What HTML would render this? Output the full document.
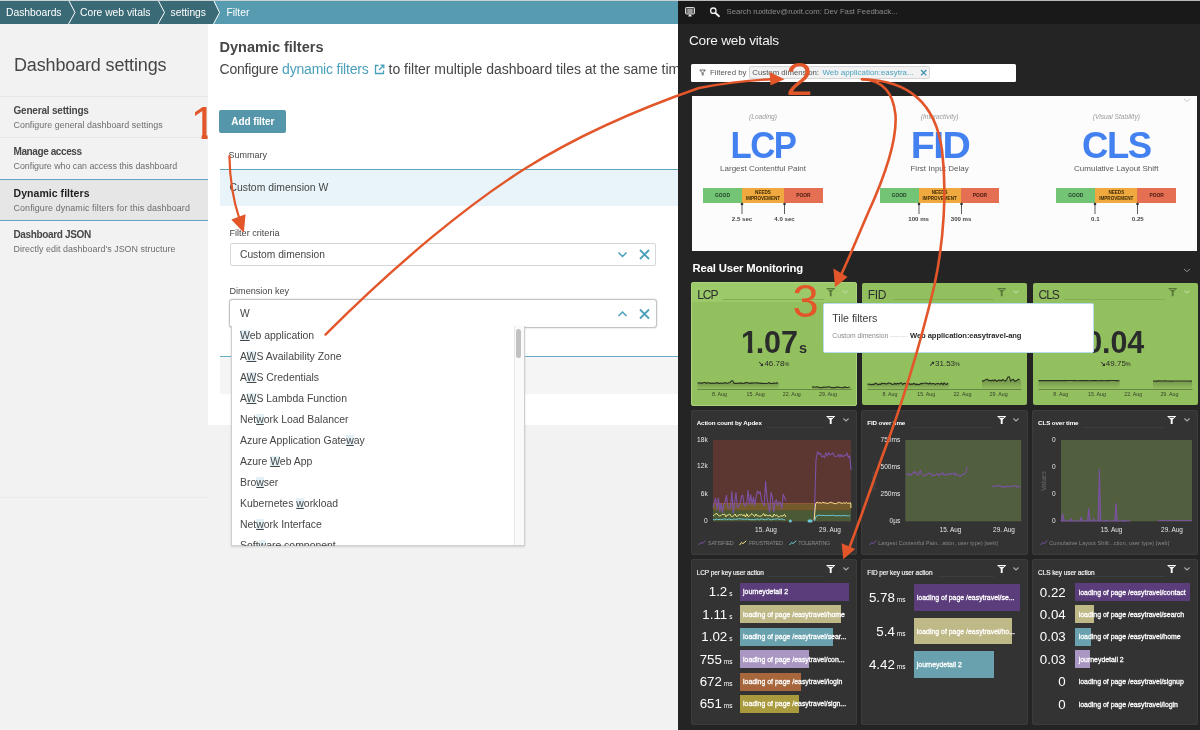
<!DOCTYPE html>
<html lang="en"><head><meta charset="utf-8"><title>Dynamic filters</title>
<style>
*{box-sizing:border-box}
html,body{margin:0;padding:0}
body{width:1200px;height:730px;overflow:hidden;position:relative;background:#f2f2f2;font-family:"Liberation Sans",sans-serif;color:#454646}
.a{position:absolute;white-space:nowrap}
#left{position:absolute;left:0;top:0;width:678px;height:730px;overflow:hidden;background:#f2f2f2}
#right{position:absolute;left:678px;top:0;width:522px;height:730px;overflow:hidden;background:#242424;color:#fff}
.bc{position:absolute;top:0.7px;height:24px;line-height:24px;color:#fff;font-size:10.3px}
.sbi{position:absolute;left:0;width:208px;height:41px;border-top:1px solid #e6e6e6}
.sbi b{position:absolute;left:13.5px;top:8px;font-size:10px;line-height:12px;color:#454646;letter-spacing:-0.2px;white-space:nowrap}
.sbi span{position:absolute;left:13.5px;top:23px;font-size:8.9px;line-height:11px;color:#6d6d6d;white-space:nowrap}
.sel{position:absolute;background:#fff;border:1px solid #ccc;border-radius:2px}
.opt{position:absolute;left:240px;font-size:10.45px;line-height:12px;color:#454646;white-space:nowrap}
.opt u{text-decoration:underline;background:#e3f1f7}
.tile{position:absolute;background:#333;border:1px solid #3c3c3c;border-radius:2px}
.gt{position:absolute;background:#93c05e;border:1px solid #aad37c;border-radius:2px;color:#2c2d2d}
.tt{position:absolute;font-size:6.25px;font-weight:700;color:#fff;white-space:nowrap;line-height:9px;letter-spacing:-0.13px}
.yl{position:absolute;font-size:6.6px;color:#e6e6e6;text-align:right;line-height:8px;white-space:nowrap}
.xl{position:absolute;font-size:6.45px;color:#e6e6e6;text-align:center;line-height:8px;width:40px;margin-left:-20px;white-space:nowrap}
.lg{position:absolute;font-size:5.4px;color:#8a8a8a;line-height:7px;white-space:nowrap;letter-spacing:-0.22px}
.bv{position:absolute;text-align:right;color:#fff;white-space:nowrap;font-size:13.3px;line-height:15px}
.bv small{font-size:6.5px;margin-left:2px}
.bar{position:absolute}
.bl{position:absolute;font-size:6.93px;color:#fff;white-space:nowrap;line-height:9px;font-weight:400;-webkit-text-stroke:0.28px #fff}
.num{position:absolute;color:#e2562a;font-size:47px;line-height:47px;white-space:nowrap}
</style></head>
<body>
<div id="left">
<div class="a" style="left:208px;top:24px;width:470px;height:401px;background:#fff"></div>
<div class="a" style="left:0;top:0;width:678px;height:24px;background:#569bb0"></div>
<svg class="a" style="left:0;top:0" width="678" height="24" viewBox="0 0 678 24"><path d="M0 0H213.5L219.5 12.5L213.5 24H0Z" fill="#3a6a76"/><path d="M68.5 0L75 12.5L68.5 24M158 0L164.5 12.5L158 24M213.5 0L219.5 12.5L213.5 24" fill="none" stroke="#fff" stroke-width="1"/><rect x="0" y="0" width="678" height="1" fill="#c9d3d6"/></svg>
<div class="bc" style="left:6px">Dashboards</div>
<div class="bc" style="left:80px">Core web vitals</div>
<div class="bc" style="left:170.5px">settings</div>
<div class="bc" style="left:226.5px">Filter</div>
<div class="a" style="left:14px;top:52.6px;font-size:18px;line-height:24px;color:#454646;letter-spacing:-0.15px">Dashboard settings</div>
<div class="sbi" style="top:96px;"><b style="letter-spacing:-0.2px">General settings</b><span style="letter-spacing:0.03px">Configure general dashboard settings</span></div>
<div class="sbi" style="top:137px;"><b style="letter-spacing:-0.4px">Manage access</b><span style="letter-spacing:-0.03px">Configure who can access this dashboard</span></div>
<div class="sbi" style="top:179px;z-index:2;background:#e6e6e6;border-top:1px solid #5fa5bd;border-bottom:1px solid #5fa5bd;height:42px;"><b style="font-size:10.5px;color:#1e1e1e;top:6.6px;letter-spacing:0.05px">Dynamic filters</b><span style="letter-spacing:0.12px">Configure dynamic filters for this dashboard</span></div>
<div class="sbi" style="top:220px;"><b style="letter-spacing:-0.35px">Dashboard JSON</b><span style="letter-spacing:0.05px">Directly edit dashboard's JSON structure</span></div>
<div class="a" style="left:0;top:496.5px;width:208px;height:1px;background:#e9e9e9"></div>
<div class="a" style="left:219.5px;top:38px;font-size:14.5px;font-weight:700;line-height:18px;color:#454646">Dynamic filters</div>
<div class="a" style="left:219.5px;top:59.8px;font-size:14px;line-height:18px;color:#454646;letter-spacing:-0.2px">Configure <span style="color:#4a9fba">dynamic filters</span><svg width="11" height="11" viewBox="0 0 11 11" style="margin:0 4px 0 5px;vertical-align:-1px"><path d="M4.5 1.5H1.5V9.5H9.5V6.5M6.5 1.2H9.8V4.5M9.5 1.5L5 6" fill="none" stroke="#4a9fba" stroke-width="1.3"/></svg><span style="letter-spacing:-0.02px">to filter multiple dashboard tiles at the same time</span></div>
<div class="a" style="left:219.3px;top:110.2px;width:67px;height:23.2px;background:#5596ab;border-radius:2px;color:#fff;font-size:10px;font-weight:700;line-height:23.5px;text-align:center;letter-spacing:-0.1px">Add filter</div>
<div class="a" style="left:228.5px;top:150.4px;font-size:9px;line-height:11px;color:#454646">Summary</div>
<div class="a" style="left:219.5px;top:169px;width:460px;height:1px;background:#5fa5bd"></div>
<div class="a" style="left:219.5px;top:170px;width:460px;height:36px;background:#e8f4f9"></div>
<div class="a" style="left:229.5px;top:181.5px;font-size:10.4px;line-height:12px;color:#454646">Custom dimension W</div>
<div class="a" style="left:229.5px;top:227.8px;font-size:9.1px;line-height:11px;color:#454646">Filter criteria</div>
<div class="sel" style="left:229.5px;top:243px;width:426.5px;height:23px;border-color:#d6d6d6"></div>
<div class="a" style="left:240px;top:248.7px;font-size:10.25px;line-height:12px;color:#454646">Custom dimension</div>
<div class="a" style="left:229.5px;top:286.3px;font-size:9.1px;line-height:11px;color:#454646">Dimension key</div>
<div class="sel" style="left:229.3px;top:299.4px;width:428.2px;height:28.4px;border:1.6px solid #c4c4c4;border-radius:3.5px;box-shadow:0 0 1.5px rgba(0,0,0,.3)"></div>
<div class="a" style="left:240px;top:307.7px;font-size:10.25px;line-height:12px;color:#454646">W</div>
<svg class="a" style="left:612px;top:244px" width="50" height="90" viewBox="0 0 50 90"><path d="M6.5 8.5L10.5 12.5L14.5 8.5" fill="none" stroke="#4a9fba" stroke-width="1.5"/><path d="M28 6L37 15M37 6L28 15" fill="none" stroke="#4a9fba" stroke-width="1.8"/><path d="M6.5 72L10.5 68L14.5 72" fill="none" stroke="#4a9fba" stroke-width="1.5"/><path d="M28 65.5L37 74.5M37 65.5L28 74.5" fill="none" stroke="#4a9fba" stroke-width="1.8"/></svg>
<div class="a" style="left:219.5px;top:355.8px;width:460px;height:1.2px;background:#66adc5"></div>
<div class="a" style="left:219.5px;top:357px;width:460px;height:37px;background:#f5f5f5"></div>
<div class="a" style="left:230.5px;top:326px;width:294px;height:220px;background:#fff;border:1px solid #cfcfcf;border-top:none;overflow:hidden;box-shadow:0 1px 2px rgba(0,0,0,.15)"><div class="a" style="right:0;top:0;width:10px;height:220px;background:#fafafa;border-left:1px solid #e8e8e8"></div><div class="a" style="right:2.6px;top:2.5px;width:5.4px;height:29px;background:#c1c1c1;border-radius:3px"></div></div>
<div class="a" style="left:0;top:0;width:520px;height:546px;overflow:hidden">
<div class="opt" style="top:330.2px"><u>W</u>eb application</div>
<div class="opt" style="top:351.1px">A<u>W</u>S Availability Zone</div>
<div class="opt" style="top:372.1px">A<u>W</u>S Credentials</div>
<div class="opt" style="top:393.0px">A<u>W</u>S Lambda Function</div>
<div class="opt" style="top:414.0px">Net<u>w</u>ork Load Balancer</div>
<div class="opt" style="top:434.9px">Azure Application Gate<u>w</u>ay</div>
<div class="opt" style="top:455.9px">Azure <u>W</u>eb App</div>
<div class="opt" style="top:476.9px">Bro<u>w</u>ser</div>
<div class="opt" style="top:497.8px">Kubernetes <u>w</u>orkload</div>
<div class="opt" style="top:518.8px">Net<u>w</u>ork Interface</div>
<div class="opt" style="top:539.7px">Soft<u>w</u>are component</div>
</div>
</div>
<div id="right">
<div class="a" style="left:0;top:0;width:522px;height:24px;background:#191919"></div>
<div class="a" style="left:0;top:0;width:522px;height:1px;background:#b9b9b9"></div>
<svg class="a" style="left:6px;top:6px" width="40" height="14" viewBox="0 0 40 14"><rect x="1.5" y="1.5" width="9" height="6.5" rx="0.8" fill="#5a5a5a" stroke="#d8d8d8" stroke-width="1"/><path d="M3.5 4H8.5M3.5 6H8.5" stroke="#d8d8d8" stroke-width="1"/><path d="M4.2 10.5L5 8.5H7L7.8 10.5Z" fill="#e6e6e6"/><circle cx="29.3" cy="4.7" r="2.7" fill="none" stroke="#f0f0f0" stroke-width="1.3"/><path d="M31.5 7L35 10.2" stroke="#f0f0f0" stroke-width="1.9" stroke-linecap="round"/></svg>
<div class="a" style="left:48.5px;top:7px;font-size:7.76px;line-height:10px;color:#8c8c8c">Search ruxitdev@ruxit.com: Dev Fast Feedback...</div>
<div class="a" style="left:11px;top:32px;font-size:13.6px;line-height:18px;color:#f2f2f2;letter-spacing:-0.2px">Core web vitals</div>
<div class="a" style="left:13px;top:63.5px;width:325px;height:18px;background:#fff;border-radius:1.5px"></div>
<svg class="a" style="left:21px;top:69px" width="8" height="8" viewBox="0 0 8 8"><path d="M0.8 1H6.4L4.1 3.6V6.3L3.1 5.6V3.6Z" fill="none" stroke="#555" stroke-width="0.9" stroke-linejoin="round"/></svg>
<div class="a" style="left:32px;top:67.5px;font-size:7.8px;line-height:10px;color:#555">Filtered by</div>
<div class="a" style="left:71.29999999999995px;top:65.5px;width:181px;height:13.7px;background:#f2f2f2;border:1px solid #d6d6d6;border-radius:2px"></div>
<div class="a" style="left:74.29999999999995px;top:67.5px;font-size:7.8px;line-height:10px;color:#555">Custom dimension: <span style="color:#4aa2be;margin-left:1.2px;font-size:7.95px">Web application:easytra...</span></div>
<svg class="a" style="left:242px;top:69px" width="8" height="8" viewBox="0 0 8 8"><path d="M1 1L6.4 6.4M6.4 1L1 6.4" stroke="#3f93ad" stroke-width="1.3"/></svg>
<div class="a" style="left:14px;top:96px;width:505px;height:155px;background:#fcfcfc"></div>
<svg class="a" style="left:505px;top:98px" width="8" height="5" viewBox="0 0 8 5"><path d="M1 1L4 3.6L7 1" fill="none" stroke="#c4c4c4" stroke-width="0.9"/></svg>
<div class="a" style="left:25.0px;width:120px;top:112.6px;text-align:center;font-size:6.6px;line-height:8px;font-style:italic;color:#9a9a9a">(Loading)</div>
<div class="a" style="left:25.0px;width:120px;top:126px;text-align:center;font-size:36.5px;line-height:40px;font-weight:700;color:#4381f0;letter-spacing:-1.5px;transform:scaleX(0.952)">LCP</div>
<div class="a" style="left:25.0px;width:120px;top:164px;text-align:center;font-size:8px;line-height:10px;color:#5a5a5a">Largest Contentful Paint</div>
<div class="a" style="left:25.0px;top:188px;width:39px;height:15.3px;background:#74c476;font-size:4.9px;font-weight:700;color:#1f3d24;text-align:center;line-height:15.3px">GOOD</div>
<div class="a" style="left:64.0px;top:188px;width:42px;height:15.3px;background:#efa93e;font-size:4.6px;font-weight:700;color:#3f2c08;text-align:center;line-height:5.3px;padding-top:2.4px">NEEDS<br>IMPROVEMENT</div>
<div class="a" style="left:106.0px;top:188px;width:38.7px;height:15.3px;background:#e46f53;font-size:4.9px;font-weight:700;color:#47180e;text-align:center;line-height:15.3px">POOR</div>
<svg class="a" style="left:25.0px;top:202px" width="120" height="13" viewBox="0 0 120 13"><path d="M39 2V12M81.5 2V12" stroke="#333" stroke-width="0.8"/><circle cx="39" cy="2" r="1.3" fill="#333"/><circle cx="81.5" cy="2" r="1.3" fill="#333"/></svg>
<div class="a" style="left:44.0px;width:40px;top:215px;text-align:center;font-size:6.1px;line-height:8px;color:#444;font-weight:700">2.5 sec</div>
<div class="a" style="left:86.5px;width:40px;top:215px;text-align:center;font-size:6.1px;line-height:8px;color:#444;font-weight:700">4.0 sec</div>
<div class="a" style="left:201.6px;width:120px;top:112.6px;text-align:center;font-size:6.6px;line-height:8px;font-style:italic;color:#9a9a9a">(Interactivity)</div>
<div class="a" style="left:201.6px;width:120px;top:126px;text-align:center;font-size:36.5px;line-height:40px;font-weight:700;color:#4381f0;letter-spacing:-1.5px;transform:scaleX(1.075)">FID</div>
<div class="a" style="left:201.6px;width:120px;top:164px;text-align:center;font-size:8px;line-height:10px;color:#5a5a5a">First Input Delay</div>
<div class="a" style="left:201.7px;top:188px;width:39px;height:15.3px;background:#74c476;font-size:4.9px;font-weight:700;color:#1f3d24;text-align:center;line-height:15.3px">GOOD</div>
<div class="a" style="left:240.7px;top:188px;width:42px;height:15.3px;background:#efa93e;font-size:4.6px;font-weight:700;color:#3f2c08;text-align:center;line-height:5.3px;padding-top:2.4px">NEEDS<br>IMPROVEMENT</div>
<div class="a" style="left:282.6px;top:188px;width:38.7px;height:15.3px;background:#e46f53;font-size:4.9px;font-weight:700;color:#47180e;text-align:center;line-height:15.3px">POOR</div>
<svg class="a" style="left:201.7px;top:202px" width="120" height="13" viewBox="0 0 120 13"><path d="M39 2V12M81.5 2V12" stroke="#333" stroke-width="0.8"/><circle cx="39" cy="2" r="1.3" fill="#333"/><circle cx="81.5" cy="2" r="1.3" fill="#333"/></svg>
<div class="a" style="left:220.7px;width:40px;top:215px;text-align:center;font-size:6.1px;line-height:8px;color:#444;font-weight:700">100 ms</div>
<div class="a" style="left:263.1px;width:40px;top:215px;text-align:center;font-size:6.1px;line-height:8px;color:#444;font-weight:700">300 ms</div>
<div class="a" style="left:378.3px;width:120px;top:112.6px;text-align:center;font-size:6.6px;line-height:8px;font-style:italic;color:#9a9a9a">(Visual Stability)</div>
<div class="a" style="left:378.3px;width:120px;top:126px;text-align:center;font-size:36.5px;line-height:40px;font-weight:700;color:#4381f0;letter-spacing:-1.5px;transform:scaleX(1.0)">CLS</div>
<div class="a" style="left:378.3px;width:120px;top:164px;text-align:center;font-size:8px;line-height:10px;color:#5a5a5a">Cumulative Layout Shift</div>
<div class="a" style="left:378.3px;top:188px;width:39px;height:15.3px;background:#74c476;font-size:4.9px;font-weight:700;color:#1f3d24;text-align:center;line-height:15.3px">GOOD</div>
<div class="a" style="left:417.3px;top:188px;width:42px;height:15.3px;background:#efa93e;font-size:4.6px;font-weight:700;color:#3f2c08;text-align:center;line-height:5.3px;padding-top:2.4px">NEEDS<br>IMPROVEMENT</div>
<div class="a" style="left:459.3px;top:188px;width:38.7px;height:15.3px;background:#e46f53;font-size:4.9px;font-weight:700;color:#47180e;text-align:center;line-height:15.3px">POOR</div>
<svg class="a" style="left:378.3px;top:202px" width="120" height="13" viewBox="0 0 120 13"><path d="M39 2V12M81.5 2V12" stroke="#333" stroke-width="0.8"/><circle cx="39" cy="2" r="1.3" fill="#333"/><circle cx="81.5" cy="2" r="1.3" fill="#333"/></svg>
<div class="a" style="left:397.3px;width:40px;top:215px;text-align:center;font-size:6.1px;line-height:8px;color:#444;font-weight:700">0.1</div>
<div class="a" style="left:439.8px;width:40px;top:215px;text-align:center;font-size:6.1px;line-height:8px;color:#444;font-weight:700">0.25</div>
<div class="a" style="left:14.5px;top:262.3px;font-size:11.3px;font-weight:700;line-height:13px;color:#fff;letter-spacing:-0.15px">Real User Monitoring</div>
<svg class="a" style="left:505px;top:268px" width="8" height="5" viewBox="0 0 8 5"><path d="M1 1L4 3.6L7 1" fill="none" stroke="#9a9a9a" stroke-width="0.9"/></svg>
<div class="gt" style="left:12.7px;top:282px;width:166.4px;height:123.7px"><div class="a" style="left:0;top:0;width:100%;height:18.5px;background:#9cc96a"></div></div>
<div class="a" style="left:19.200000000000045px;top:287.5px;font-size:12px;line-height:14px;color:#2c2d2d;letter-spacing:-1.05px">LCP</div>
<div class="a" style="left:44.700000000000045px;top:299px;width:101px;height:1px;background:#82ad52"></div>
<svg class="a" style="left:148.3px;top:288.2px" width="9.4" height="8.4" viewBox="0 0 9.4 8.4"><path d="M0 0H9.4L5.65 3.7V8.3H3.75V3.7Z" fill="#5a783a"/><path d="M2 0.95H7.4L6.5 1.85H2.9Z" fill="#93c05e"/></svg>
<svg class="a" style="left:164.3px;top:290.2px" width="6" height="4" viewBox="0 0 6 4"><path d="M0.4 0.5L3 2.9L5.6 0.5" fill="none" stroke="#b9d796" stroke-width="1.1"/></svg>
<div class="a" style="left:12.700000000000045px;width:166.4px;top:325px;text-align:center;font-size:30.5px;line-height:34px;font-weight:700;color:#2a2b2b;letter-spacing:-0.1px"><span style="display:inline-block;clip-path:polygon(0 0,0.376em 0,0.376em 100%,0.222em 100%,0.222em 0.77em,0 0.77em);margin-right:-0.07em">1</span>.07<span style="font-size:14.5px;letter-spacing:-0.3px;margin-left:1.2px">s</span></div>
<div class="a" style="left:12.700000000000045px;width:166.4px;top:358.5px;text-align:center;font-size:8px;line-height:10px;color:#2a2b2b"><span style="font-size:6.5px;font-weight:700">↘</span>46.78<span style="font-size:5.5px">%</span></div>
<svg class="a" style="left:12.700000000000045px;top:282px" width="167" height="123" viewBox="0 0 167 123"><defs><linearGradient id="gg0" x1="0" y1="0" x2="0" y2="1"><stop offset="0" stop-color="#3c4a2c" stop-opacity=".35"/><stop offset="1" stop-color="#3c4a2c" stop-opacity="0"/></linearGradient></defs><rect x="6.5" y="101" width="81.0" height="6.5" fill="url(#gg0)"/><rect x="121" y="105.3" width="39" height="2.200000000000003" fill="url(#gg0)"/><path d="M6.5 107.5H160.5" stroke="#55703a" stroke-width="0.7"/><polyline points="6.5,100.7 7.8,101.0 9.1,100.9 10.4,101.1 11.7,101.1 13.0,100.5 14.3,100.5 15.6,101.4 16.9,100.7 18.2,100.7 19.5,101.5 20.8,101.0 22.1,101.4 23.4,101.0 24.7,101.2 26.0,100.6 27.3,101.1 28.6,101.4 29.9,101.0 31.2,101.3 32.5,101.2 33.8,100.5 35.1,101.3 36.4,101.1 37.7,100.8 39.0,100.5 40.3,99.1 41.6,98.7 42.9,101.2 44.2,101.4 45.5,101.2 46.8,101.5 48.1,100.9 49.4,101.3 50.7,100.9 52.0,101.5 53.3,101.4 54.6,100.6 55.9,100.6 57.2,100.7 58.5,101.5 59.8,100.9 61.1,101.1 62.4,100.8 63.7,101.0 65.0,100.9 66.3,100.8 67.6,101.1 68.9,101.1 70.2,101.4 71.5,101.2 72.8,101.5 74.1,101.4 75.4,101.5 76.7,101.2 78.0,100.6 79.3,101.4 80.6,101.5 81.9,101.4 83.2,101.1 84.5,101.2 85.8,100.7 87.1,101.4" fill="none" stroke="#2a3120" stroke-width="1.15" stroke-linejoin="round"/><polyline points="121.0,105.0 122.3,104.9 123.6,105.2 124.9,105.0 126.2,104.9 127.5,105.2 128.8,105.7 130.1,105.6 131.4,105.6 132.7,105.0 134.0,105.3 135.3,105.1 136.6,105.0 137.9,104.9 139.2,105.0 140.5,105.7 141.8,105.6 143.1,105.6 144.4,105.6 145.7,105.0 147.0,105.1 148.3,105.4 149.6,105.5 150.9,105.7 152.2,105.7 153.5,104.9 154.8,105.4 156.1,105.5 157.4,105.3 158.7,105.0" fill="none" stroke="#2a3120" stroke-width="1.15" stroke-linejoin="round"/></svg>
<div class="a" style="left:26.4px;width:30px;top:390.5px;text-align:center;font-size:5.3px;line-height:7px;color:#33402a">8. Aug</div>
<div class="a" style="left:62.6px;width:30px;top:390.5px;text-align:center;font-size:5.3px;line-height:7px;color:#33402a">15. Aug</div>
<div class="a" style="left:98.8px;width:30px;top:390.5px;text-align:center;font-size:5.3px;line-height:7px;color:#33402a">22. Aug</div>
<div class="a" style="left:135.0px;width:30px;top:390.5px;text-align:center;font-size:5.3px;line-height:7px;color:#33402a">29. Aug</div>
<div class="gt" style="left:183.9px;top:282.6px;width:165.2px;height:122.8px;border:none"><div class="a" style="left:0;top:0;width:100%;height:18.5px;background:transparent"></div></div>
<div class="a" style="left:189.79999999999995px;top:287.5px;font-size:12px;line-height:14px;color:#2c2d2d;letter-spacing:-0.4px">FID</div>
<div class="a" style="left:215.29999999999995px;top:299px;width:101px;height:1px;background:#82ad52"></div>
<svg class="a" style="left:318.9px;top:288.2px" width="9.4" height="8.4" viewBox="0 0 9.4 8.4"><path d="M0 0H9.4L5.65 3.7V8.3H3.75V3.7Z" fill="#5a783a"/><path d="M2 0.95H7.4L6.5 1.85H2.9Z" fill="#93c05e"/></svg>
<svg class="a" style="left:334.9px;top:290.2px" width="6" height="4" viewBox="0 0 6 4"><path d="M0.4 0.5L3 2.9L5.6 0.5" fill="none" stroke="#b9d796" stroke-width="1.1"/></svg>
<div class="a" style="left:183.29999999999995px;width:166.4px;top:325px;text-align:center;font-size:30.5px;line-height:34px;font-weight:700;color:#2a2b2b;letter-spacing:-0.1px"><span style="display:inline-block;clip-path:polygon(0 0,0.376em 0,0.376em 100%,0.222em 100%,0.222em 0.77em,0 0.77em);margin-right:-0.07em">1</span>03<span style="font-size:14.5px;letter-spacing:-0.3px;margin-left:1.2px">ms</span></div>
<div class="a" style="left:183.29999999999995px;width:166.4px;top:358.5px;text-align:center;font-size:8px;line-height:10px;color:#2a2b2b"><span style="font-size:6.5px;font-weight:700">↗</span>31.53<span style="font-size:5.5px">%</span></div>
<svg class="a" style="left:183.29999999999995px;top:282px" width="167" height="123" viewBox="0 0 167 123"><defs><linearGradient id="gg1" x1="0" y1="0" x2="0" y2="1"><stop offset="0" stop-color="#3c4a2c" stop-opacity=".35"/><stop offset="1" stop-color="#3c4a2c" stop-opacity="0"/></linearGradient></defs><rect x="6.5" y="101.8" width="81.5" height="5.700000000000003" fill="url(#gg1)"/><rect x="121" y="98.3" width="39" height="9.200000000000003" fill="url(#gg1)"/><path d="M6.5 107.5H160.5" stroke="#55703a" stroke-width="0.7"/><polyline points="6.5,102.0 7.8,102.2 9.1,102.3 10.4,102.6 11.7,102.2 13.0,102.6 14.3,101.0 15.6,101.7 16.9,102.6 18.2,102.1 19.5,102.5 20.8,101.1 22.1,101.7 23.4,101.3 24.7,101.9 26.0,101.9 27.3,100.9 28.6,101.3 29.9,101.4 31.2,102.5 32.5,102.3 33.8,101.2 35.1,102.3 36.4,101.1 37.7,102.0 39.0,101.1 40.3,100.9 41.6,102.5 42.9,101.3 44.2,101.3 45.5,102.7 46.8,102.5 48.1,101.4 49.4,102.6 50.7,101.9 52.0,102.1 53.3,101.3 54.6,102.6 55.9,102.1 57.2,102.6 58.5,102.5 59.8,101.4 61.1,101.6 62.4,101.2 63.7,101.2 65.0,101.0 66.3,101.4 67.6,102.0 68.9,100.9 70.2,102.1 71.5,101.5 72.8,101.5 74.1,102.4 75.4,101.8 76.7,101.5 78.0,101.8 79.3,102.2 80.6,101.0 81.9,102.7 83.2,100.9 84.5,102.2 85.8,102.4 87.1,100.9" fill="none" stroke="#2a3120" stroke-width="1.15" stroke-linejoin="round"/><polyline points="121.0,99.1 122.3,99.1 123.6,98.3 124.9,97.7 126.2,97.0 127.5,98.7 128.8,98.2 130.1,99.0 131.4,98.0 132.7,99.0 134.0,97.7 135.3,99.1 136.6,98.9 137.9,98.1 139.2,98.4 140.5,98.8 141.8,97.5 143.1,98.4 144.4,99.1 145.7,97.7 147.0,95.1 148.3,94.8 149.6,99.2 150.9,97.9 152.2,97.2 153.5,99.1 154.8,99.1 156.1,98.2 157.4,97.2 158.7,97.5" fill="none" stroke="#2a3120" stroke-width="1.15" stroke-linejoin="round"/></svg>
<div class="a" style="left:197.0px;width:30px;top:390.5px;text-align:center;font-size:5.3px;line-height:7px;color:#33402a">8. Aug</div>
<div class="a" style="left:233.2px;width:30px;top:390.5px;text-align:center;font-size:5.3px;line-height:7px;color:#33402a">15. Aug</div>
<div class="a" style="left:269.4px;width:30px;top:390.5px;text-align:center;font-size:5.3px;line-height:7px;color:#33402a">22. Aug</div>
<div class="a" style="left:305.6px;width:30px;top:390.5px;text-align:center;font-size:5.3px;line-height:7px;color:#33402a">29. Aug</div>
<div class="gt" style="left:354.7px;top:282.6px;width:165.2px;height:122.8px;border:none"><div class="a" style="left:0;top:0;width:100%;height:18.5px;background:transparent"></div></div>
<div class="a" style="left:360.5999999999999px;top:287.5px;font-size:12px;line-height:14px;color:#2c2d2d;letter-spacing:-1.05px">CLS</div>
<div class="a" style="left:386.0999999999999px;top:299px;width:101px;height:1px;background:#82ad52"></div>
<svg class="a" style="left:489.7px;top:288.2px" width="9.4" height="8.4" viewBox="0 0 9.4 8.4"><path d="M0 0H9.4L5.65 3.7V8.3H3.75V3.7Z" fill="#5a783a"/><path d="M2 0.95H7.4L6.5 1.85H2.9Z" fill="#93c05e"/></svg>
<svg class="a" style="left:505.7px;top:290.2px" width="6" height="4" viewBox="0 0 6 4"><path d="M0.4 0.5L3 2.9L5.6 0.5" fill="none" stroke="#b9d796" stroke-width="1.1"/></svg>
<div class="a" style="left:354.0999999999999px;width:166.4px;top:325px;text-align:center;font-size:30.5px;line-height:34px;font-weight:700;color:#2a2b2b;letter-spacing:-0.1px">0.04<span style="font-size:14.5px;letter-spacing:-0.3px;margin-left:1.2px"></span></div>
<div class="a" style="left:354.0999999999999px;width:166.4px;top:358.5px;text-align:center;font-size:8px;line-height:10px;color:#2a2b2b"><span style="font-size:6.5px;font-weight:700">↘</span>49.75<span style="font-size:5.5px">%</span></div>
<svg class="a" style="left:354.0999999999999px;top:282px" width="167" height="123" viewBox="0 0 167 123"><defs><linearGradient id="gg2" x1="0" y1="0" x2="0" y2="1"><stop offset="0" stop-color="#3c4a2c" stop-opacity=".35"/><stop offset="1" stop-color="#3c4a2c" stop-opacity="0"/></linearGradient></defs><rect x="6.5" y="98.6" width="81.1" height="8.900000000000006" fill="url(#gg2)"/><rect x="121" y="99" width="39" height="8.5" fill="url(#gg2)"/><path d="M6.5 107.5H160.5" stroke="#55703a" stroke-width="0.7"/><polyline points="6.5,98.6 9.5,98.5 12.5,98.6 15.5,98.5 18.5,98.6 21.5,98.6 24.5,98.5 27.5,98.6 30.5,98.5 33.5,98.6 36.5,98.5 39.5,98.5 42.5,98.6 45.5,98.7 48.5,98.5 51.5,98.6 54.5,98.6 57.5,98.7 60.5,98.6 63.5,98.6 66.5,98.7 69.5,98.5 72.5,98.7 75.5,98.6 78.5,98.5 81.5,98.5 84.5,98.6 87.5,98.7" fill="none" stroke="#2a3120" stroke-width="1.15" stroke-linejoin="round"/><polyline points="121.0,99.0 124.0,99.1 127.0,98.9 130.0,99.0 133.0,98.9 136.0,99.0 139.0,99.1 142.0,99.0 145.0,99.0 148.0,99.0 151.0,99.0 154.0,99.0 157.0,99.0 160.0,99.1" fill="none" stroke="#2a3120" stroke-width="1.15" stroke-linejoin="round"/></svg>
<div class="a" style="left:367.8px;width:30px;top:390.5px;text-align:center;font-size:5.3px;line-height:7px;color:#33402a">8. Aug</div>
<div class="a" style="left:404.0px;width:30px;top:390.5px;text-align:center;font-size:5.3px;line-height:7px;color:#33402a">15. Aug</div>
<div class="a" style="left:440.2px;width:30px;top:390.5px;text-align:center;font-size:5.3px;line-height:7px;color:#33402a">22. Aug</div>
<div class="a" style="left:476.4px;width:30px;top:390.5px;text-align:center;font-size:5.3px;line-height:7px;color:#33402a">29. Aug</div>
<div class="a" style="left:144.5px;top:303px;width:271.5px;height:49.5px;background:#fff;border:1px solid #b9dcea;border-radius:2px"></div>
<div class="a" style="left:154.29999999999995px;top:310.9px;font-size:10.6px;line-height:14px;color:#3a3a3a">Tile filters</div>
<div class="a" style="left:154.29999999999995px;top:331.2px;font-size:6.75px;line-height:9px;color:#8a8a8a">Custom dimension</div><div class="a" style="left:211.79999999999995px;top:331.4px;width:18.4px;overflow:hidden;font-size:6px;line-height:9px;color:#b0b0b0;letter-spacing:-0.5px">....................</div>
<div class="a" style="left:232px;top:331.2px;font-size:7.6px;line-height:9px;color:#2a2a2a;font-weight:700;letter-spacing:-0.08px">Web application:easytravel-ang</div>
<div class="tile" style="left:12.700000000000045px;top:410.3px;width:166.4px;height:144.3px"></div>
<div class="tt" style="left:18.700000000000045px;top:418.2px">Action count by Apdex</div>
<svg class="a" style="left:148.0px;top:416.0px" width="9.4" height="8.4" viewBox="0 0 9.4 8.4"><path d="M0 0H9.4L5.65 3.7V8.3H3.75V3.7Z" fill="#fff"/><path d="M2 0.95H7.4L6.5 1.85H2.9Z" fill="#333"/></svg>
<div class="a" style="left:89.20000000000005px;top:426.6px;width:56.5px;height:1px;background:#3a3e3e"></div>
<svg class="a" style="left:164.7px;top:418.0px" width="6" height="4" viewBox="0 0 6 4"><path d="M0.4 0.5L3 2.9L5.6 0.5" fill="none" stroke="#ababab" stroke-width="1.1"/></svg>
<div class="tile" style="left:183.29999999999995px;top:410.3px;width:166.4px;height:144.3px"></div>
<div class="tt" style="left:189.29999999999995px;top:418.2px">FID over time</div>
<svg class="a" style="left:318.6px;top:416.0px" width="9.4" height="8.4" viewBox="0 0 9.4 8.4"><path d="M0 0H9.4L5.65 3.7V8.3H3.75V3.7Z" fill="#fff"/><path d="M2 0.95H7.4L6.5 1.85H2.9Z" fill="#333"/></svg>
<div class="a" style="left:233.29999999999995px;top:426.6px;width:82px;height:1px;background:#3a3e3e"></div>
<svg class="a" style="left:335.3px;top:418.0px" width="6" height="4" viewBox="0 0 6 4"><path d="M0.4 0.5L3 2.9L5.6 0.5" fill="none" stroke="#ababab" stroke-width="1.1"/></svg>
<div class="tile" style="left:354.0999999999999px;top:410.3px;width:166.4px;height:144.3px"></div>
<div class="tt" style="left:360.0999999999999px;top:418.2px">CLS over time</div>
<svg class="a" style="left:489.4px;top:416.0px" width="9.4" height="8.4" viewBox="0 0 9.4 8.4"><path d="M0 0H9.4L5.65 3.7V8.3H3.75V3.7Z" fill="#fff"/><path d="M2 0.95H7.4L6.5 1.85H2.9Z" fill="#333"/></svg>
<div class="a" style="left:404.0999999999999px;top:426.6px;width:82px;height:1px;background:#3a3e3e"></div>
<svg class="a" style="left:506.1px;top:418.0px" width="6" height="4" viewBox="0 0 6 4"><path d="M0.4 0.5L3 2.9L5.6 0.5" fill="none" stroke="#ababab" stroke-width="1.1"/></svg>
<svg class="a" style="left:0;top:0" width="522" height="730" viewBox="0 0 522 730"><rect x="35" y="440" width="138" height="81.29999999999995" fill="#5c3631"/><rect x="35" y="503.3" width="138" height="7.2" fill="#735a2c"/><rect x="35" y="503" width="138" height="0.7" fill="#a5603a"/><rect x="35" y="510.5" width="138" height="10.799999999999955" fill="#4a5a36"/><polyline points="35.0,507.5 36.4,501.8 37.7,498.3 39.1,509.3 40.4,498.1 41.8,511.1 43.1,503.4 44.5,512.6 45.8,504.2 47.2,501.4 48.5,495.4 49.9,507.4 51.2,508.2 52.6,508.0 53.9,491.6 55.3,513.0 56.6,502.7 58.0,492.5 59.3,507.0 60.7,506.9 62.0,504.3 63.4,496.3 64.7,495.1 66.1,505.0 67.4,506.3 68.8,503.0 70.1,490.3 71.5,504.8 72.8,494.5 74.1,504.3 75.5,497.0 76.8,505.7 78.2,496.3 79.5,490.7 80.9,493.5 82.2,491.7 83.6,500.7 84.9,503.9 86.3,505.4 87.6,481.2 89.0,497.8 90.3,505.1 91.7,512.1 93.0,492.4 94.4,497.0 95.7,511.8 97.1,502.0 98.4,499.9 99.8,505.6 101.1,502.2 102.5,502.8 103.8,508.6 105.2,494.1 106.5,497.2 107.9,500.7" fill="none" stroke="#7c52a5" stroke-width="1.1" stroke-linejoin="round"/><polyline points="136.2,521.0 136.8,500.0 138.0,460.0 139.5,451.5 141.0,454.3 142.4,453.2 143.8,457.0 145.2,455.8 146.6,457.4 148.0,452.6 149.4,456.0 150.8,452.6 152.2,454.9 153.6,454.1 155.0,452.9 156.4,456.2 157.8,456.2 159.2,456.5 160.6,454.3 162.0,457.0 163.4,454.6 164.8,456.8 166.2,455.6 167.6,455.4 169.0,452.9 170.4,457.5 171.8,456.1 173.0,470.0" fill="none" stroke="#7c52a5" stroke-width="1.1" stroke-linejoin="round"/><polyline points="35.0,516.1 36.3,515.1 37.6,513.8 38.9,513.6 40.2,515.2 41.5,516.0 42.8,515.7 44.1,514.4 45.4,514.6 46.7,514.2 48.0,516.8 49.3,515.1 50.6,514.7 51.9,514.2 53.2,516.4 54.5,516.7 55.8,515.6 57.1,514.0 58.4,516.5 59.7,516.1 61.0,514.5 62.3,515.1 63.6,514.3 64.9,515.8 66.2,514.6 67.5,517.0 68.8,513.8 70.1,516.6 71.4,516.1 72.7,514.6 74.0,513.6 75.3,515.1 76.6,516.5 77.9,514.0 79.2,515.8 80.5,515.8 81.8,516.4 83.1,516.0 84.4,515.2 85.7,513.5 87.0,516.1 88.3,514.5 89.6,516.0 90.9,515.7 92.2,514.9 93.5,516.8 94.8,516.9 96.1,514.0 97.4,515.8 98.7,514.9 100.0,516.7 101.3,516.9 102.6,515.8 103.9,516.1 105.2,515.8 106.5,514.3 107.8,517.0" fill="none" stroke="#f3e489" stroke-width="1" stroke-linejoin="round"/><polyline points="136.2,520.0 137.5,504.0 139.0,502.0 140.5,502.9 141.9,502.5 143.3,503.4 144.7,502.0 146.1,502.9 147.5,502.8 148.9,503.4 150.3,503.3 151.7,502.5 153.1,502.2 154.5,502.8 155.9,503.4 157.3,503.6 158.7,503.6 160.1,502.3 161.5,502.4 162.9,503.0 164.3,503.4 165.7,502.5 167.1,503.4 168.5,502.3 169.9,503.6 171.3,502.9 172.7,502.9 173.0,508.0" fill="none" stroke="#f3e489" stroke-width="1" stroke-linejoin="round"/><polyline points="35.0,519.4 36.5,519.9 38.0,519.2 39.5,519.4 41.0,519.5 42.5,519.3 44.0,519.8 45.5,519.0 47.0,518.9 48.5,519.7 50.0,519.3 51.5,518.9 53.0,519.8 54.5,519.6 56.0,518.9 57.5,519.5 59.0,519.1 60.5,518.8 62.0,518.8 63.5,519.0 65.0,519.3 66.5,519.2 68.0,519.3 69.5,518.9 71.0,519.5 72.5,519.7 74.0,519.7 75.5,519.6 77.0,519.8 78.5,519.1 80.0,519.0 81.5,519.8 83.0,519.0 84.5,519.0 86.0,519.7 87.5,519.6 89.0,519.2 90.5,518.7 92.0,519.5 93.5,519.9 95.0,519.3 96.5,519.3 98.0,518.9 99.5,518.8 101.0,519.4 102.5,519.4 104.0,518.9 105.5,519.7 107.0,519.8" fill="none" stroke="#6fc8d8" stroke-width="1" stroke-linejoin="round"/><polyline points="136.5,521.0 138.0,516.5 140.0,515.3 141.5,515.1 143.1,515.5 144.7,515.3 146.3,515.5 147.9,515.6 149.5,515.7 151.1,515.2 152.7,515.7 154.3,515.2 155.9,515.5 157.5,515.9 159.1,515.7 160.7,515.6 162.3,515.6 163.9,516.0 165.5,515.3 167.1,515.7 168.7,515.8 170.3,515.9 171.9,515.7" fill="none" stroke="#6fc8d8" stroke-width="1" stroke-linejoin="round"/><circle cx="112.29999999999995" cy="521" r="1.5" fill="#6fc8d8"/><rect x="129.5" y="519.6" width="5" height="3" rx="1.5" fill="#6fc8d8"/></svg>
<div class="yl" style="left:12.700000000000045px;width:17.0px;top:436.0px">18k</div>
<div class="yl" style="left:12.700000000000045px;width:17.0px;top:462.4px">12k</div>
<div class="yl" style="left:12.700000000000045px;width:17.0px;top:490.3px">6k</div>
<div class="yl" style="left:12.700000000000045px;width:17.0px;top:517.3px">0</div>
<div class="xl" style="left:88px;top:525.5px">15. Aug</div>
<div class="xl" style="left:152px;top:525.5px">29. Aug</div>
<svg class="a" style="left:19.5px;top:540.0px" width="8" height="6" viewBox="0 0 8 6"><path d="M0.5 5L2.6 2.4L4 3.6L7.3 0.7" fill="none" stroke="#7c52a5" stroke-width="1"/></svg>
<div class="lg" style="left:30px;top:539.7px">SATISFIED</div>
<svg class="a" style="left:61.3px;top:540.0px" width="8" height="6" viewBox="0 0 8 6"><path d="M0.5 5L2.6 2.4L4 3.6L7.3 0.7" fill="none" stroke="#f3e489" stroke-width="1"/></svg>
<div class="lg" style="left:71px;top:539.7px">FRUSTRATED</div>
<svg class="a" style="left:110.6px;top:540.0px" width="8" height="6" viewBox="0 0 8 6"><path d="M0.5 5L2.6 2.4L4 3.6L7.3 0.7" fill="none" stroke="#6fc8d8" stroke-width="1"/></svg>
<div class="lg" style="left:120.29999999999995px;top:539.7px">TOLERATING</div>
<svg class="a" style="left:0;top:0" width="522" height="730" viewBox="0 0 522 730"><rect x="227.29999999999995" y="440" width="115.9" height="81.3" fill="#515f3f"/><polyline points="228.3,473.4 229.6,474.9 230.9,473.6 232.2,475.5 233.5,474.5 234.8,472.9 236.1,471.4 237.4,473.6 238.7,473.0 240.0,475.3 241.3,472.7 242.6,470.6 243.9,474.1 245.2,475.5 246.5,475.9 247.8,474.7 249.1,474.5 250.4,473.0 251.7,473.7 253.0,473.6 254.3,475.8 255.6,475.3 256.9,475.2 258.2,474.4 259.5,473.5 260.8,475.7 262.1,474.1 263.4,474.1 264.7,472.7 266.0,475.2 267.3,474.5 268.6,474.7 269.9,473.6 271.2,474.7 272.5,473.5 273.8,474.0 275.1,474.0 276.4,472.5 277.7,475.5 279.0,474.1 280.3,475.1 281.6,476.0 282.9,476.1 284.2,474.8 285.5,474.5 286.8,473.7 288.0,472.0 289.0,467.0" fill="none" stroke="#7c52a5" stroke-width="1.1" stroke-linejoin="round"/><polyline points="314.4,485.7 315.8,486.8 317.2,486.3 318.6,485.5 320.0,485.9 321.4,485.7 322.8,486.0 324.2,487.2 325.6,486.3 327.0,487.1 328.4,486.7 329.8,485.8 331.2,486.8 332.6,486.5 334.0,486.4 335.4,486.0 336.8,485.9 338.2,485.4 339.6,487.1 341.0,486.5 342.4,486.9" fill="none" stroke="#7c52a5" stroke-width="1.1" stroke-linejoin="round"/></svg>
<div class="yl" style="left:183.29999999999995px;width:39.0px;top:436.0px">750ms</div>
<div class="yl" style="left:183.29999999999995px;width:39.0px;top:463.0px">500ms</div>
<div class="yl" style="left:183.29999999999995px;width:39.0px;top:490.3px">250ms</div>
<div class="yl" style="left:183.29999999999995px;width:39.0px;top:517.3px">0µs</div>
<div class="a" style="left:175.7px;top:476.5px;width:40px;height:8px;line-height:8px;text-align:center;font-size:6.6px;color:#4c4c4c;transform:rotate(-90deg)">Values</div>
<div class="xl" style="left:272.5px;top:525.5px">15. Aug</div>
<div class="xl" style="left:326px;top:525.5px">29. Aug</div>
<svg class="a" style="left:190.8px;top:540.0px" width="8" height="6" viewBox="0 0 8 6"><path d="M0.5 5L2.6 2.4L4 3.6L7.3 0.7" fill="none" stroke="#7c52a5" stroke-width="1"/></svg>
<div class="lg" style="left:200.20000000000005px;top:539.7px;letter-spacing:0.12px">Largest Contentful Pain...ation, user type) [web]</div>
<svg class="a" style="left:0;top:0" width="522" height="730" viewBox="0 0 522 730"><rect x="383" y="440" width="131.0" height="81.3" fill="#515f3f"/><path d="M383 521H452M480 520.6H514" stroke="#7c52a5" stroke-width="1"/><path d="M383.0 521 L384.6 513.6 L386.2 521 M392.0 521 L393.0 518.5 L394.0 521 M401.5 521 L403.0 517 L404.5 521 M409.5 521 L410.8 508.4 L412.1 521 M414.6 521 L415.6 518.5 L416.6 521 M420.0 521 L421.4 469 L422.8 521 M436.7 521 L438.0 503.5 L439.3 521 M427.0 521 L428.0 520 L429.0 521 M445.0 521 L446.0 520 L447.0 521" fill="#7c52a5" fill-opacity=".55" stroke="#7c52a5" stroke-width="1" stroke-linejoin="round"/></svg>
<div class="yl" style="left:354.0999999999999px;width:23.7px;top:436.0px">0</div>
<div class="yl" style="left:354.0999999999999px;width:23.7px;top:463.0px">0</div>
<div class="yl" style="left:354.0999999999999px;width:23.7px;top:490.3px">0</div>
<div class="yl" style="left:354.0999999999999px;width:23.7px;top:517.3px">0</div>
<div class="a" style="left:346.0px;top:476.5px;width:40px;height:8px;line-height:8px;text-align:center;font-size:6.6px;color:#6a6a6a;transform:rotate(-90deg)">Values</div>
<div class="xl" style="left:433.5px;top:525.5px">15. Aug</div>
<div class="xl" style="left:494px;top:525.5px">29. Aug</div>
<svg class="a" style="left:362.0px;top:540.0px" width="8" height="6" viewBox="0 0 8 6"><path d="M0.5 5L2.6 2.4L4 3.6L7.3 0.7" fill="none" stroke="#7c52a5" stroke-width="1"/></svg>
<div class="lg" style="left:371.29999999999995px;top:539.7px;letter-spacing:0.12px">Cumulative Layout Shift...ction, user type) [web]</div>
<div class="tile" style="left:12.700000000000045px;top:559.4px;width:166.4px;height:165.8px"></div>
<div class="tt" style="left:18.700000000000045px;top:567.6px;font-weight:400;font-size:6.5px;letter-spacing:-0.09px;-webkit-text-stroke:0.12px #fff">LCP per key user action</div>
<svg class="a" style="left:148.0px;top:565.0px" width="9.4" height="8.4" viewBox="0 0 9.4 8.4"><path d="M0 0H9.4L5.65 3.7V8.3H3.75V3.7Z" fill="#fff"/><path d="M2 0.95H7.4L6.5 1.85H2.9Z" fill="#333"/></svg>
<div class="a" style="left:89.20000000000005px;top:575.6px;width:56.5px;height:1px;background:#3a3e3e"></div>
<svg class="a" style="left:164.7px;top:567.0px" width="6" height="4" viewBox="0 0 6 4"><path d="M0.4 0.5L3 2.9L5.6 0.5" fill="none" stroke="#ababab" stroke-width="1.1"/></svg>
<div class="tile" style="left:183.29999999999995px;top:559.4px;width:166.4px;height:165.8px"></div>
<div class="tt" style="left:189.29999999999995px;top:567.6px;font-weight:400;font-size:6.5px;letter-spacing:-0.09px;-webkit-text-stroke:0.12px #fff">FID per key user action</div>
<svg class="a" style="left:318.6px;top:565.0px" width="9.4" height="8.4" viewBox="0 0 9.4 8.4"><path d="M0 0H9.4L5.65 3.7V8.3H3.75V3.7Z" fill="#fff"/><path d="M2 0.95H7.4L6.5 1.85H2.9Z" fill="#333"/></svg>
<div class="a" style="left:259.79999999999995px;top:575.6px;width:56.5px;height:1px;background:#3a3e3e"></div>
<svg class="a" style="left:335.3px;top:567.0px" width="6" height="4" viewBox="0 0 6 4"><path d="M0.4 0.5L3 2.9L5.6 0.5" fill="none" stroke="#ababab" stroke-width="1.1"/></svg>
<div class="tile" style="left:354.0999999999999px;top:559.4px;width:166.4px;height:165.8px"></div>
<div class="tt" style="left:360.0999999999999px;top:567.6px;font-weight:400;font-size:6.5px;letter-spacing:-0.09px;-webkit-text-stroke:0.12px #fff">CLS key user action</div>
<svg class="a" style="left:489.4px;top:565.0px" width="9.4" height="8.4" viewBox="0 0 9.4 8.4"><path d="M0 0H9.4L5.65 3.7V8.3H3.75V3.7Z" fill="#fff"/><path d="M2 0.95H7.4L6.5 1.85H2.9Z" fill="#333"/></svg>
<div class="a" style="left:414.0999999999999px;top:575.6px;width:73px;height:1px;background:#3a3e3e"></div>
<svg class="a" style="left:506.1px;top:567.0px" width="6" height="4" viewBox="0 0 6 4"><path d="M0.4 0.5L3 2.9L5.6 0.5" fill="none" stroke="#ababab" stroke-width="1.1"/></svg>
<div class="bar" style="left:61.8px;top:582.8px;width:109.2px;height:18px;background:#5b3d7c"></div>
<div class="bv" style="left:13px;width:41.5px;top:584.3px">1.2<small>s</small></div>
<div class="bl" style="left:65px;top:587.3px">journeydetail 2</div>
<div class="bar" style="left:61.8px;top:605.2px;width:101.2px;height:18px;background:#bfb887"></div>
<div class="bv" style="left:13px;width:41.5px;top:606.7px">1.11<small>s</small></div>
<div class="bl" style="left:65px;top:609.7px">loading of page /easytravel/home</div>
<div class="bar" style="left:61.8px;top:627.7px;width:93.2px;height:18px;background:#69a2ae"></div>
<div class="bv" style="left:13px;width:41.5px;top:629.2px">1.02<small>s</small></div>
<div class="bl" style="left:65px;top:632.2px">loading of page /easytravel/sear...</div>
<div class="bar" style="left:61.8px;top:650.1px;width:69.0px;height:18px;background:#a996c2"></div>
<div class="bv" style="left:13px;width:41.5px;top:651.6px">755<small>ms</small></div>
<div class="bl" style="left:65px;top:654.6px">loading of page /easytravel/con...</div>
<div class="bar" style="left:61.8px;top:672.5px;width:61.2px;height:18px;background:#a7663b"></div>
<div class="bv" style="left:13px;width:41.5px;top:674.0px">672<small>ms</small></div>
<div class="bl" style="left:65px;top:677.0px">loading of page /easytravel/login</div>
<div class="bar" style="left:61.8px;top:694.9px;width:59.4px;height:18px;background:#a99a3d"></div>
<div class="bv" style="left:13px;width:41.5px;top:696.4px">651<small>ms</small></div>
<div class="bl" style="left:65px;top:699.4px">loading of page /easytravel/sign...</div>
<div class="bar" style="left:235.7px;top:584.0px;width:106.0px;height:26.8px;background:#5b3d7c"></div>
<div class="bv" style="left:184px;width:43.5px;top:590.0px">5.78<small>ms</small></div>
<div class="bl" style="left:238.79999999999995px;top:593.0px">loading of page /easytravel/se...</div>
<div class="bar" style="left:235.7px;top:617.5px;width:98.6px;height:26.8px;background:#bfb887"></div>
<div class="bv" style="left:184px;width:43.5px;top:623.5px">5.4<small>ms</small></div>
<div class="bl" style="left:238.79999999999995px;top:626.5px">loading of page /easytravel/ho...</div>
<div class="bar" style="left:235.7px;top:651.1px;width:80.7px;height:26.8px;background:#69a2ae"></div>
<div class="bv" style="left:184px;width:43.5px;top:657.1px">4.42<small>ms</small></div>
<div class="bl" style="left:238.79999999999995px;top:660.1px">journeydetail 2</div>
<div class="bar" style="left:397.2px;top:583.0px;width:114.8px;height:18px;background:#5b3d7c"></div>
<div class="bv" style="left:355px;width:32.7px;top:584.5px">0.22</div>
<div class="bl" style="left:400.70000000000005px;top:587.5px">loading of page /easytravel/contact</div>
<div class="bar" style="left:397.2px;top:605.4px;width:19.0px;height:18px;background:#bfb887"></div>
<div class="bv" style="left:355px;width:32.7px;top:606.9px">0.04</div>
<div class="bl" style="left:400.70000000000005px;top:609.9px">loading of page /easytravel/search</div>
<div class="bar" style="left:397.2px;top:627.9px;width:15.6px;height:18px;background:#69a2ae"></div>
<div class="bv" style="left:355px;width:32.7px;top:629.4px">0.03</div>
<div class="bl" style="left:400.70000000000005px;top:632.4px">loading of page /easytravel/home</div>
<div class="bar" style="left:397.2px;top:650.3px;width:14.8px;height:18px;background:#a996c2"></div>
<div class="bv" style="left:355px;width:32.7px;top:651.8px">0.03</div>
<div class="bl" style="left:400.70000000000005px;top:654.8px">journeydetail 2</div>
<div class="bv" style="left:355px;width:32.7px;top:674.2px">0</div>
<div class="bl" style="left:400.70000000000005px;top:677.2px">loading of page /easytravel/signup</div>
<div class="bv" style="left:355px;width:32.7px;top:696.6px">0</div>
<div class="bl" style="left:400.70000000000005px;top:699.6px">loading of page /easytravel/login</div>
</div>
<div class="num" style="left:190.6px;top:98.6px;width:17px;overflow:hidden;clip-path:polygon(0 0,100% 0,100% 100%,0.235em 100%,0.235em 0.755em,0 0.755em)">1</div>
<div class="num" style="left:785.6px;top:55px;transform:scaleX(1.02);transform-origin:0 0">2</div>
<div class="num" style="left:792.6px;top:277px">3</div>
<svg class="a" style="left:0;top:0;pointer-events:none" width="1200" height="730" viewBox="0 0 1200 730"><g fill="none" stroke="#e2562a" stroke-width="2.6" stroke-linecap="round"><path stroke-width="2.2" d="M229.4 156C229.8 177 233 200 239.5 219"/><path stroke-width="2.4" d="M325.5 334.6C398 262 470 203 526 168S650 105 699 88C725 83 750 80 772 79.3"/><path d="M862 79.3C880 80 893 90 895.5 115C897.5 145 879 189 868 213C858.5 235 849 258 841.5 274"/><path d="M862 79.3C905 80 935 100 942 150C947 190 944 240 934.5 285C920 345 900 410 882 457C872 485 860 520 850 546"/></g><g fill="#e2562a"><path d="M231.3 219.6L245.6 214.3L243.8 232.8Z"/><path d="M769.5 72L784.5 79.3L770.5 85.5Z"/><path d="M833.4 268.5L847.6 277L835 287.3Z"/><path d="M841.6 543.3L855.2 549L843.3 559.3Z"/></g></svg>
</body></html>
